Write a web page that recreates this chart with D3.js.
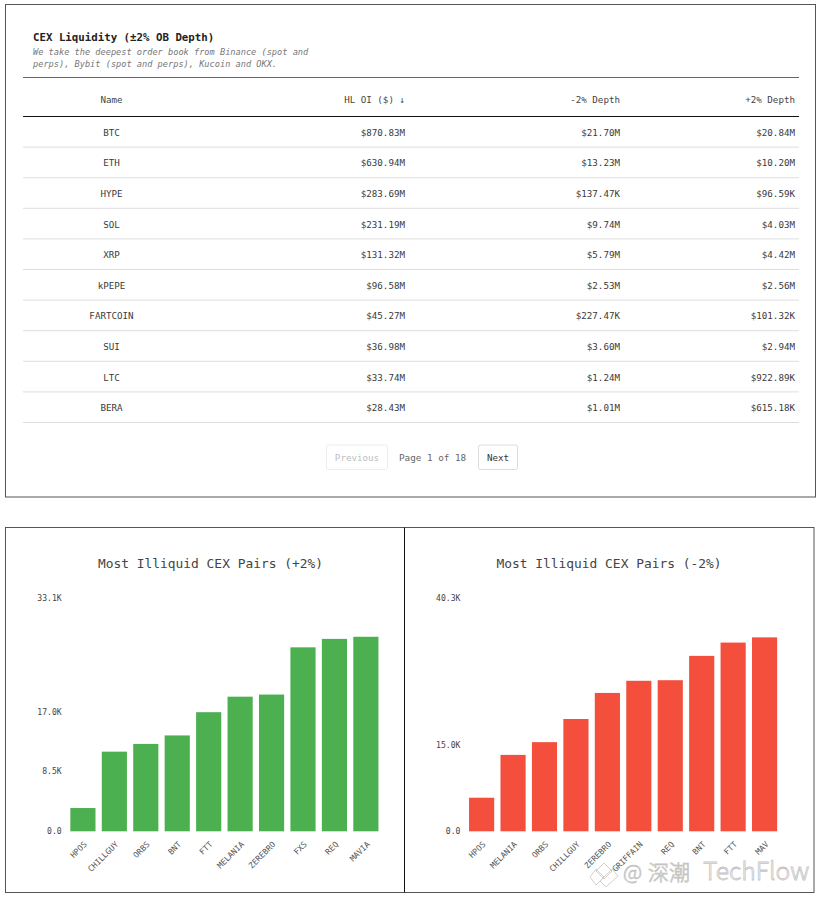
<!DOCTYPE html>
<html>
<head>
<meta charset="utf-8">
<script src="https://cdn.jsdelivr.net/npm/d3@7"></script>
<style>
  html, body { margin: 0; padding: 0; background: #fff; }
  svg { display: block; }
  text { font-family: "DejaVu Sans Mono", monospace; }
</style>
</head>
<body>
<div id="chart"></div>
<script>
const width = 819, height = 899;

// table
const columns = ["Name", "HL OI ($) ↓", "-2% Depth", "+2% Depth"];
const names = ["BTC", "ETH", "HYPE", "SOL", "XRP", "kPEPE", "FARTCOIN", "SUI", "LTC", "BERA"];
const hlOi = ["$870.83M", "$630.94M", "$283.69M", "$231.19M", "$131.32M", "$96.58M", "$45.27M", "$36.98M", "$33.74M", "$28.43M"];
const depthDown = ["$21.70M", "$13.23M", "$137.47K", "$9.74M", "$5.79M", "$2.53M", "$227.47K", "$3.60M", "$1.24M", "$1.01M"];
const depthUp = ["$20.84M", "$10.20M", "$96.59K", "$4.03M", "$4.42M", "$2.56M", "$101.32K", "$2.94M", "$922.89K", "$615.18K"];

// bars, values in thousands
const plusNames = ["HPOS", "CHILLGUY", "ORBS", "BNT", "FTT", "MELANIA", "ZEREBRO", "FXS", "REQ", "MAVIA"];
const plusValues = [3.3, 11.3, 12.4, 13.6, 16.9, 19.1, 19.4, 26.1, 27.3, 27.6];
const plusTicks = [0, 8.5, 17.0, 33.1];

const minusNames = ["HPOS", "MELANIA", "ORBS", "CHILLGUY", "ZEREBRO", "GRIFFAIN", "REQ", "BNT", "FTT", "MAV"];
const minusValues = [5.8, 13.2, 15.4, 19.4, 23.9, 26.0, 26.1, 30.3, 32.6, 33.5];
const minusTicks = [0, 15.0, 40.3];

const svg = d3.select("#chart").append("svg")
    .attr("width", width)
    .attr("height", height);

svg.append("rect").attr("width", width).attr("height", height).attr("fill", "#fff");

const box = (x, y, w, h, stroke) => svg.append("rect")
    .attr("x", x).attr("y", y).attr("width", w).attr("height", h)
    .attr("fill", "none").attr("stroke", stroke).attr("stroke-width", 1);

box(5.5, 4.5, 810, 492.5, "#555");
box(5.5, 527.5, 399, 365, "#555");
box(404.5, 527.5, 409.5, 365, "#555");
svg.append("line").attr("x1", 404.5).attr("x2", 404.5).attr("y1", 527.5).attr("y2", 892.5)
    .attr("stroke", "#111");

// table part
svg.append("text").attr("x", 33).attr("y", 40.5)
    .attr("font-size", 10.75).attr("font-weight", 600).attr("fill", "#222")
    .text("CEX Liquidity (±2% OB Depth)");

const subtitle = ["We take the deepest order book from Binance (spot and", "perps), Bybit (spot and perps), Kucoin and OKX."];
svg.selectAll("text.sub").data(subtitle).enter().append("text")
    .attr("class", "sub")
    .attr("x", 33)
    .attr("y", (d, i) => 55 + i * 11.7)
    .attr("font-size", 8.65).attr("font-style", "italic").attr("fill", "#777")
    .text(d => d);

const rowY = d3.scaleBand().domain(names).range([117, 423]);
const rowLeft = 23, rowRight = 799;
const colX = [111.5, 405, 620, 795];
const colAnchor = ["middle", "end", "end", "end"];

svg.append("line").attr("x1", rowLeft).attr("x2", rowRight).attr("y1", 77.5).attr("y2", 77.5).attr("stroke", "#666");
svg.append("line").attr("x1", rowLeft).attr("x2", rowRight).attr("y1", 116.5).attr("y2", 116.5).attr("stroke", "#111");

svg.selectAll("text.head").data(columns).enter().append("text")
    .attr("class", "head")
    .attr("x", (d, i) => colX[i])
    .attr("y", 103.3)
    .attr("text-anchor", (d, i) => colAnchor[i])
    .attr("font-size", 9.2).attr("fill", "#444")
    .text(d => d);

const rows = svg.selectAll("g.row").data(names).enter().append("g")
    .attr("class", "row")
    .attr("transform", d => `translate(0,${rowY(d)})`);

rows.append("line")
    .attr("x1", rowLeft).attr("x2", rowRight)
    .attr("y1", rowY.bandwidth() - 0.5).attr("y2", rowY.bandwidth() - 0.5)
    .attr("stroke", "#dedede");

[names, hlOi, depthDown, depthUp].forEach((col, c) => {
    rows.append("text")
        .attr("x", colX[c])
        .attr("y", rowY.bandwidth() / 2 + 3.6)
        .attr("text-anchor", colAnchor[c])
        .attr("font-size", 9.2).attr("fill", "#3a3a3a")
        .text((d, i) => col[i]);
});

// pagination
const button = (x, w, label, color, stroke) => {
    svg.append("rect").attr("x", x).attr("y", 445).attr("width", w).attr("height", 24.5)
        .attr("rx", 2).attr("fill", "#fff").attr("stroke", stroke);
    svg.append("text").attr("x", x + w / 2).attr("y", 460.5).attr("text-anchor", "middle")
        .attr("font-size", 9.2).attr("fill", color).text(label);
};
button(326.5, 61, "Previous", "#bdbdbd", "#ececec");
button(478.5, 39, "Next", "#333", "#dcdcdc");
svg.append("text").attr("x", 399).attr("y", 460.5).attr("font-size", 9.3).attr("fill", "#666").text("Page 1 of 18");

// bar charts
const barChart = (opts) => {
    const x = d3.scaleBand().domain(opts.names)
        .range(opts.range)
        .paddingInner(0.2).paddingOuter(0.1);
    const y = d3.scaleLinear().domain(opts.domain).range([831.3, 598]);
    const g = svg.append("g");

    g.append("text").attr("x", opts.titleX).attr("y", 568)
        .attr("text-anchor", "middle").attr("font-size", 12.9).attr("fill", "#444")
        .text(opts.title);

    g.selectAll("rect.bar").data(opts.values).enter().append("rect")
        .attr("class", "bar")
        .attr("x", (d, i) => x(opts.names[i]))
        .attr("y", d => y(d))
        .attr("width", x.bandwidth())
        .attr("height", d => y(0) - y(d))
        .attr("fill", opts.color);

    g.append("g").attr("transform", `translate(${opts.range[0]},0)`)
        .call(d3.axisLeft(y).tickValues(opts.ticks).tickSize(0).tickPadding(5.5)
            .tickFormat(d => d === 0 ? "0.0" : d.toFixed(1) + "K"))
        .call(a => a.select(".domain").remove())
        .selectAll("text")
        .style("font-family", "'DejaVu Sans Mono', monospace")
        .attr("font-size", 8.1).attr("fill", "#444");

    g.append("g").attr("transform", "translate(0,831.3)")
        .call(d3.axisBottom(x).tickSize(0).tickPadding(0))
        .call(a => a.select(".domain").remove())
        .selectAll("text")
        .style("font-family", "'DejaVu Sans Mono', monospace")
        .attr("font-size", 8.1).attr("fill", "#555")
        .attr("text-anchor", "end")
        .attr("dy", 0).attr("y", 0)
        .attr("transform", "translate(4.5,13.5) rotate(-45)");
};

barChart({ names: plusNames, values: plusValues, ticks: plusTicks, domain: [0, 33.1],
    range: [67.2, 381.6], color: "#4caf50", title: "Most Illiquid CEX Pairs (+2%)", titleX: 210.5 });
barChart({ names: minusNames, values: minusValues, ticks: minusTicks, domain: [0, 40.3],
    range: [465.9, 780.3], color: "#f44f3c", title: "Most Illiquid CEX Pairs (-2%)", titleX: 609 });

// watermark
const mark = svg.append("g").attr("fill", "#fff").attr("fill-opacity", 0.8).attr("stroke", "#c4c4c4").attr("stroke-width", 0.8);
mark.append("path").attr("d", "M604 863 L612 871 L604 879 L596 871 Z M596 869 L604 877 L596 885 L590 877 Z M612 869 L618 876 L606 887 L600 881 Z");
const markText = (x, size, label) => mark.append("text").attr("x", x).attr("y", 880).attr("font-size", size)
    .style("font-family", "'Noto Sans CJK SC', sans-serif").attr("font-weight", 300).text(label);
markText(623, 21, "@");
markText(648, 21, "深潮");
markText(703, 24.7, "TechFlow");
</script>
</body>
</html>
